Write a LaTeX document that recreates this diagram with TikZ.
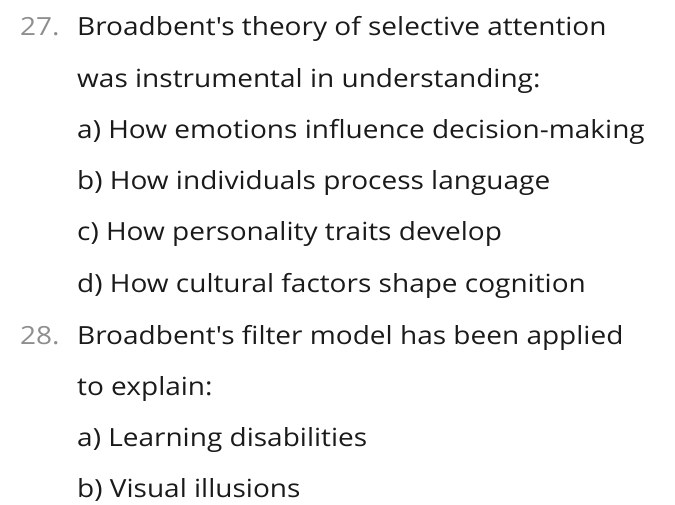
\documentclass[tikz,border=0pt]{standalone}
\usepackage{fontspec}
\setmainfont[FakeStretch=1.12,Ligatures=ResetAll]{Open Sans}
\definecolor{numgray}{HTML}{8E8E8E}
\definecolor{txt}{HTML}{1A1A1A}
\newcommand{\apo}{\textquotesingle}
\begin{document}
\begin{tikzpicture}[x=1pt,y=-1pt,
  line/.style={anchor=base west,inner sep=0pt,font=\fontsize{25}{30}\selectfont,text=txt},
  num/.style={line,text=numgray}]
\useasboundingbox (0,0) rectangle (675,505);
\node[num] (n27) at (20,36) {27.};
\node[line] (l1) at (77,36) {Broadbent\apo s theory of selective attention};
\node[line] (l2) at (77,87.5) {was instrumental in understanding:};
\node[line] (l3) at (77,139) {a) How emotions influence decision-making};
\node[line] (l4) at (77,190) {b) How individuals process language};
\node[line] (l5) at (77,241) {c) How personality traits develop};
\node[line] (l6) at (77,292) {d) How cultural factors shape cognition};
\node[num] (n28) at (20,344) {28.};
\node[line] (l7) at (77,344) {Broadbent\apo s filter model has been applied};
\node[line] (l8) at (77,395) {to explain:};
\node[line] (l9) at (77,446) {a) Learning disabilities};
\node[line] (l10) at (77,497) {b) Visual illusions};
\end{tikzpicture}
\end{document}
